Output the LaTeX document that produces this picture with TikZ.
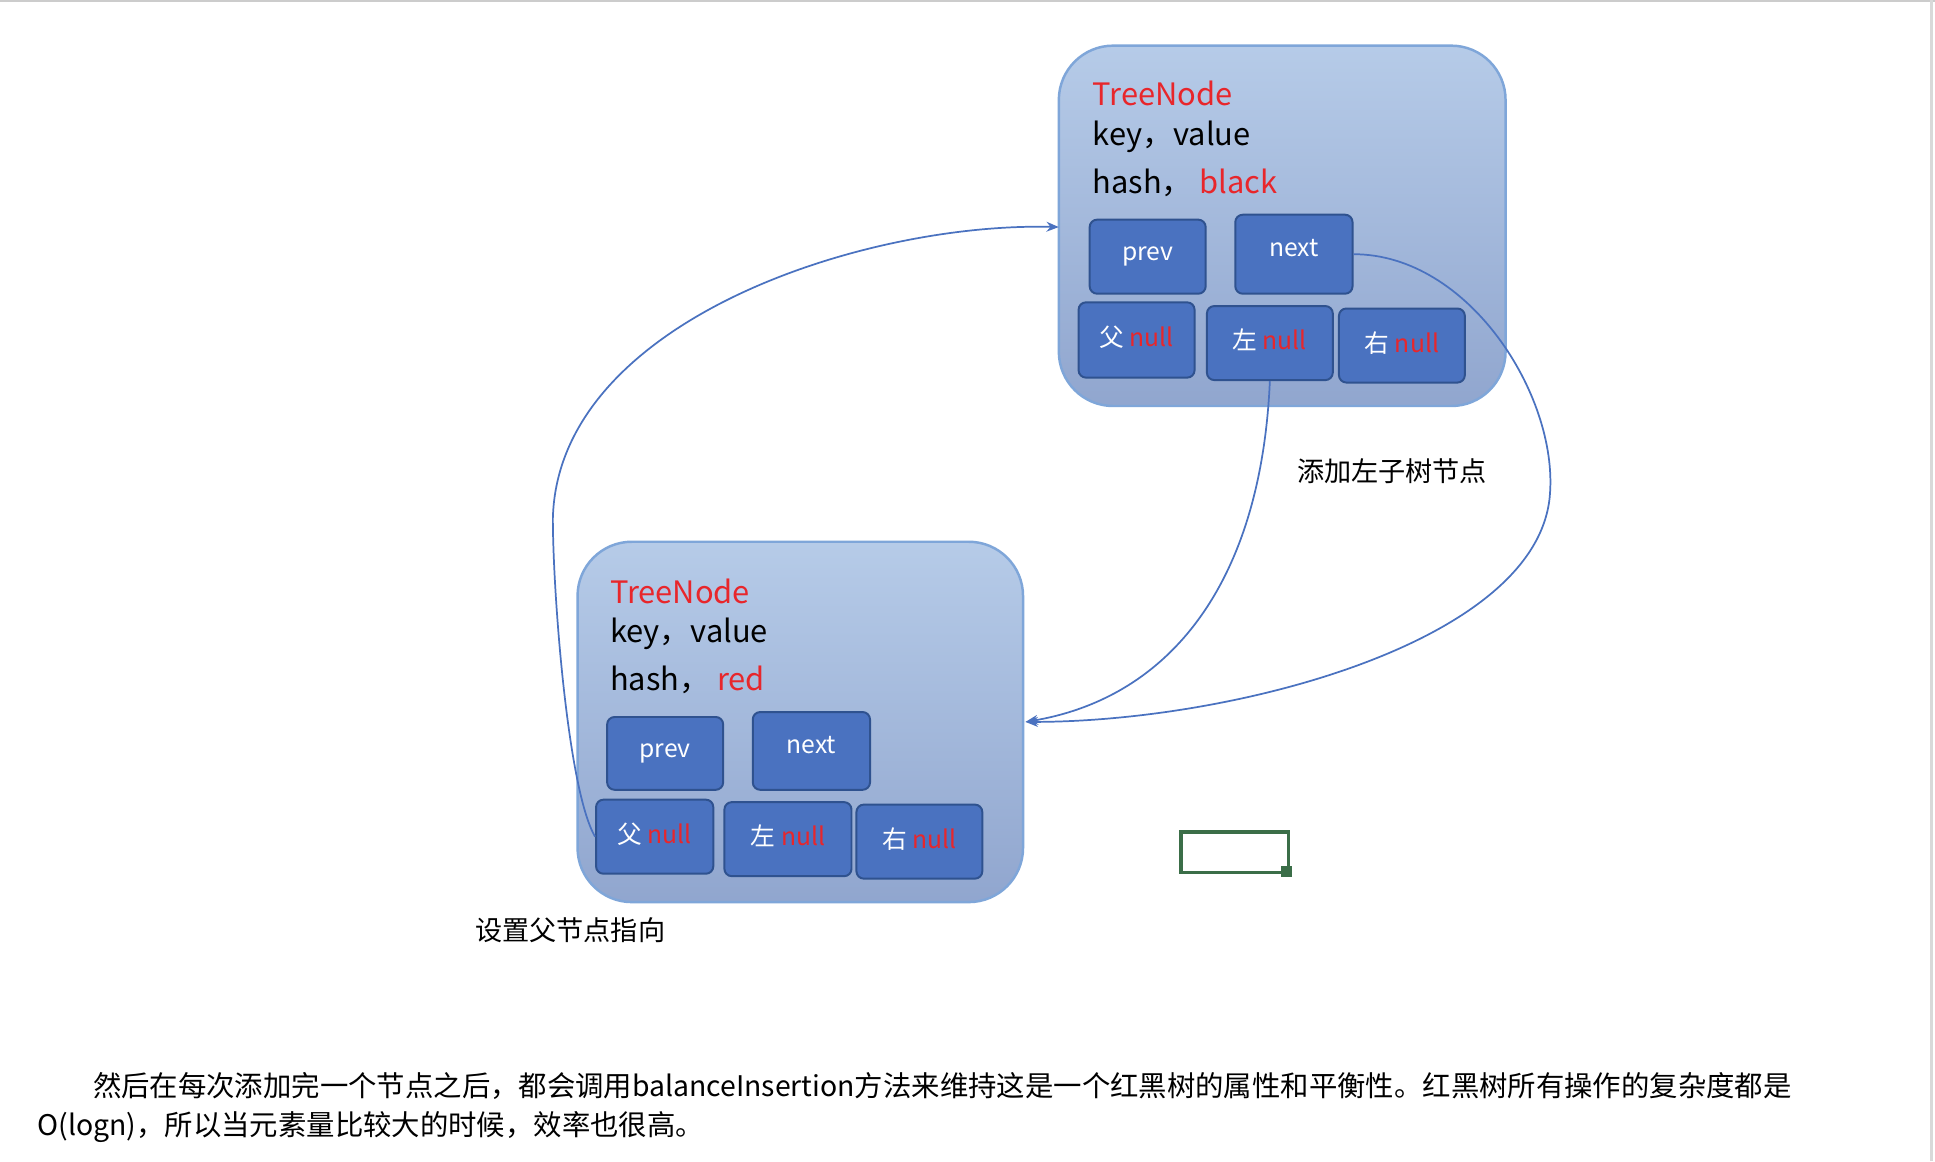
\documentclass[tikz,border=0pt]{standalone}
\usepackage{fontspec}
\setmainfont{Noto Sans CJK SC}
\usetikzlibrary{arrows.meta}
\definecolor{cbox}{HTML}{4A72C0}
\definecolor{cboxb}{HTML}{2F528F}
\definecolor{cont}{HTML}{A9C2E4}
\definecolor{contb}{HTML}{7FA6D9}
\definecolor{rd}{HTML}{E8262B}
\definecolor{gr}{HTML}{3B6E48}
\tikzset{
 cont/.style={draw=contb,line width=1pt,top color=cont!85!white,bottom color=cont!95!blue!90!black,rounded corners=22pt},
 cell/.style={draw=cboxb,line width=0.8pt,fill=cbox,rounded corners=3pt,text=white,font=\fontsize{10}{12}\selectfont,inner sep=0pt},
 big/.style={font=\fontsize{12.5}{15}\selectfont,anchor=west,inner sep=0pt},
 conn/.style={draw=cbox,line width=0.7pt,-{Stealth[length=5pt,width=4pt]}},
 lbl/.style={font=\fontsize{11}{13}\selectfont,inner sep=0pt},
 txt/.style={font=\fontsize{11.5}{13}\selectfont,inner sep=0pt,anchor=west}
}
\begin{document}
\begin{tikzpicture}[x=0.5pt,y=-0.5pt]
\useasboundingbox (0,0) rectangle (1568,941);
\fill[white] (0,0) rectangle (1568,941);
\draw[gray!40,line width=1pt] (0,0.5)--(1568,0.5);
\draw[gray!30,line width=1pt] (1565,0)--(1565,941);
% top container
\path[cont] (858,37) rectangle (1220,329);
\node[big,text=rd] (t1) at (885,76) {TreeNode};
\node[big] (t2) at (885,111) {key，value};
\node[big] (t3) at (885,148) {hash，\ \textcolor{rd}{black}};
\node[cell,minimum width=47pt,minimum height=30pt] (tprev) at (930,208) {prev};
\node[cell,minimum width=47.5pt,minimum height=32pt] (tnext) at (1048.5,206) {\raisebox{5pt}{next}};
\node[cell,minimum width=47pt,minimum height=30.5pt] (tfu) at (921,275.5) {\raisebox{3pt}{父 \textcolor{rd}{null}}};
\node[cell,minimum width=51pt,minimum height=30pt] (tzuo) at (1029,278) {\raisebox{3pt}{左 \textcolor{rd}{null}}};
\node[cell,minimum width=51pt,minimum height=30pt] (tyou) at (1136,280) {\raisebox{3pt}{右 \textcolor{rd}{null}}};
% bottom container
\path[cont] (468,439) rectangle (829,731);
\coordinate (bl) at (858,184);
\node[big,text=rd] (b1) at (494,479) {TreeNode};
\node[big] (b2) at (494,514) {key，value};
\node[big] (b3) at (494,551) {hash，\ \textcolor{rd}{red}};
\node[cell,minimum width=47pt,minimum height=29.5pt] (bprev) at (539,610.5) {prev};
\node[cell,minimum width=47.5pt,minimum height=31.5pt] (bnext) at (657.5,608.5) {\raisebox{5pt}{next}};
\node[cell,minimum width=47.5pt,minimum height=30pt] (bfu) at (530.5,678) {\raisebox{3pt}{父 \textcolor{rd}{null}}};
\node[cell,minimum width=51.5pt,minimum height=30pt] (bzuo) at (638.5,680) {\raisebox{3pt}{左 \textcolor{rd}{null}}};
\node[cell,minimum width=51pt,minimum height=30pt] (byou) at (745,682) {\raisebox{3pt}{右 \textcolor{rd}{null}}};
\coordinate (br) at (831,585);
% connectors
\draw[conn] (bfu.west) .. controls (460,640) and (448,480) .. (448,420)
  .. controls (452,260) and (700,180) .. (bl);
\draw[conn] (tzuo.south) .. controls (1022,470) and (950,565) .. (br);
\draw[conn] (tnext.east) .. controls (1190,206) and (1262,320) .. (1256,400)
  .. controls (1248,520) and (1000,585) .. (br);
\node[lbl] (l1) at (1128,382) {添加左子树节点};
\node[lbl] (l2) at (462,754) {设置父节点指向};
% green cell
\draw[gr,line width=1.5pt] (957,674) rectangle (1044,707);
\fill[gr] (1038,702) rectangle (1047,711);
% bottom text
\node[txt] (p1) at (75,880) {然后在每次添加完一个节点之后，都会调用balanceInsertion方法来维持这是一个红黑树的属性和平衡性。红黑树所有操作的复杂度都是};
\node[txt] (p2) at (30,913) {O(logn)，所以当元素量比较大的时候，效率也很高。};
\end{tikzpicture}
\end{document}
